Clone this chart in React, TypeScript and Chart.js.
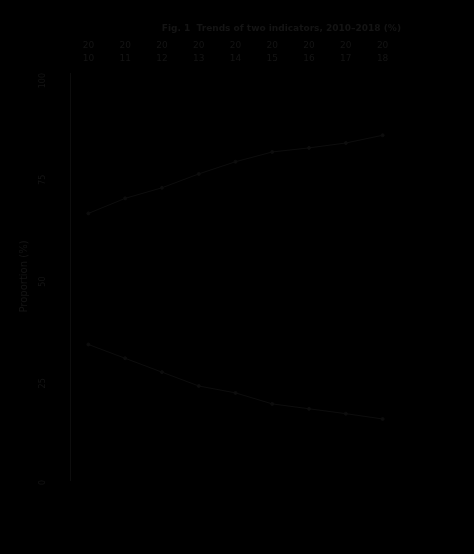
import React, { useRef, useEffect } from 'react';
import { Chart, registerables } from 'chart.js';

Chart.register(...registerables);

// categories (years, drawn on two lines at the top)
const years: string[][] = [
  ['20', '10'], ['20', '11'], ['20', '12'], ['20', '13'], ['20', '14'],
  ['20', '15'], ['20', '16'], ['20', '17'], ['20', '18'],
];

// series values
const upperSeries: number[] = [65.5, 69.2, 71.8, 75.2, 78.2, 80.6, 81.6, 82.8, 84.7];
const lowerSeries: number[] = [33.3, 29.9, 26.5, 23.1, 21.4, 18.7, 17.5, 16.3, 15.0];

const yTicks: number[] = [0, 25, 50, 75, 100];

const titleText = 'Fig. 1  Trends of two indicators, 2010–2018 (%)';
const yTitleText = 'Proportion (%)';

const ink = '#141414';
const lineInk = '#0d0d0d';

const App: React.FC = () => {
  const canvasRef = useRef<HTMLCanvasElement>(null);
  const chartRef = useRef<Chart | null>(null);

  useEffect(() => {
    document.body.style.margin = '0';
    document.body.style.background = '#000';
    const ctx = canvasRef.current?.getContext('2d');
    if (!ctx) return;

    if (chartRef.current) chartRef.current.destroy();

    chartRef.current = new Chart(ctx, {
      type: 'line',
      data: {
        labels: years,
        datasets: [
          {
            label: 'upper',
            data: upperSeries,
            borderColor: lineInk,
            borderWidth: 1,
            pointRadius: 1.5,
            pointBackgroundColor: lineInk,
            pointBorderColor: lineInk,
            tension: 0,
          },
          {
            label: 'lower',
            data: lowerSeries,
            borderColor: lineInk,
            borderWidth: 1,
            pointRadius: 1.5,
            pointBackgroundColor: lineInk,
            pointBorderColor: lineInk,
            tension: 0,
          },
        ],
      },
      options: {
        animation: false,
        responsive: true,
        maintainAspectRatio: false,
        layout: { padding: { top: 23, left: 14, right: 73, bottom: 74 } },
        plugins: {
          legend: { display: false },
          tooltip: { enabled: false },
          title: {
            display: true,
            text: titleText,
            align: 'end',
            color: ink,
            font: { family: 'DejaVu Sans', size: 9, weight: 'bold' },
            padding: { top: 0, bottom: 6 },
          },
        },
        scales: {
          x: {
            position: 'top',
            offset: true,
            grid: { display: false },
            border: { display: false },
            ticks: {
              color: ink,
              font: { family: 'DejaVu Sans', size: 9, lineHeight: 1.4 },
              maxRotation: 0,
              padding: 0,
            },
          },
          y: {
            min: 0,
            max: 100,
            afterBuildTicks: (axis) => {
              axis.ticks = yTicks.map((v) => ({ value: v }));
            },
            afterFit: (axis) => {
              axis.width = 56;
            },
            grid: { display: false },
            border: { display: true, color: lineInk },
            ticks: {
              color: ink,
              font: { family: 'DejaVu Sans', size: 8 },
              minRotation: 90,
              maxRotation: 90,
              padding: 19,
            },
            title: {
              display: true,
              text: yTitleText,
              color: ink,
              font: { family: 'DejaVu Sans', size: 10 },
              padding: 4,
            },
          },
        },
      },
    });

    return () => {
      if (chartRef.current) {
        chartRef.current.destroy();
        chartRef.current = null;
      }
    };
  }, []);

  return (
    <div style={{ width: '474px', height: '554px', background: '#000' }}>
      <canvas ref={canvasRef} />
    </div>
  );
};

export default App;
